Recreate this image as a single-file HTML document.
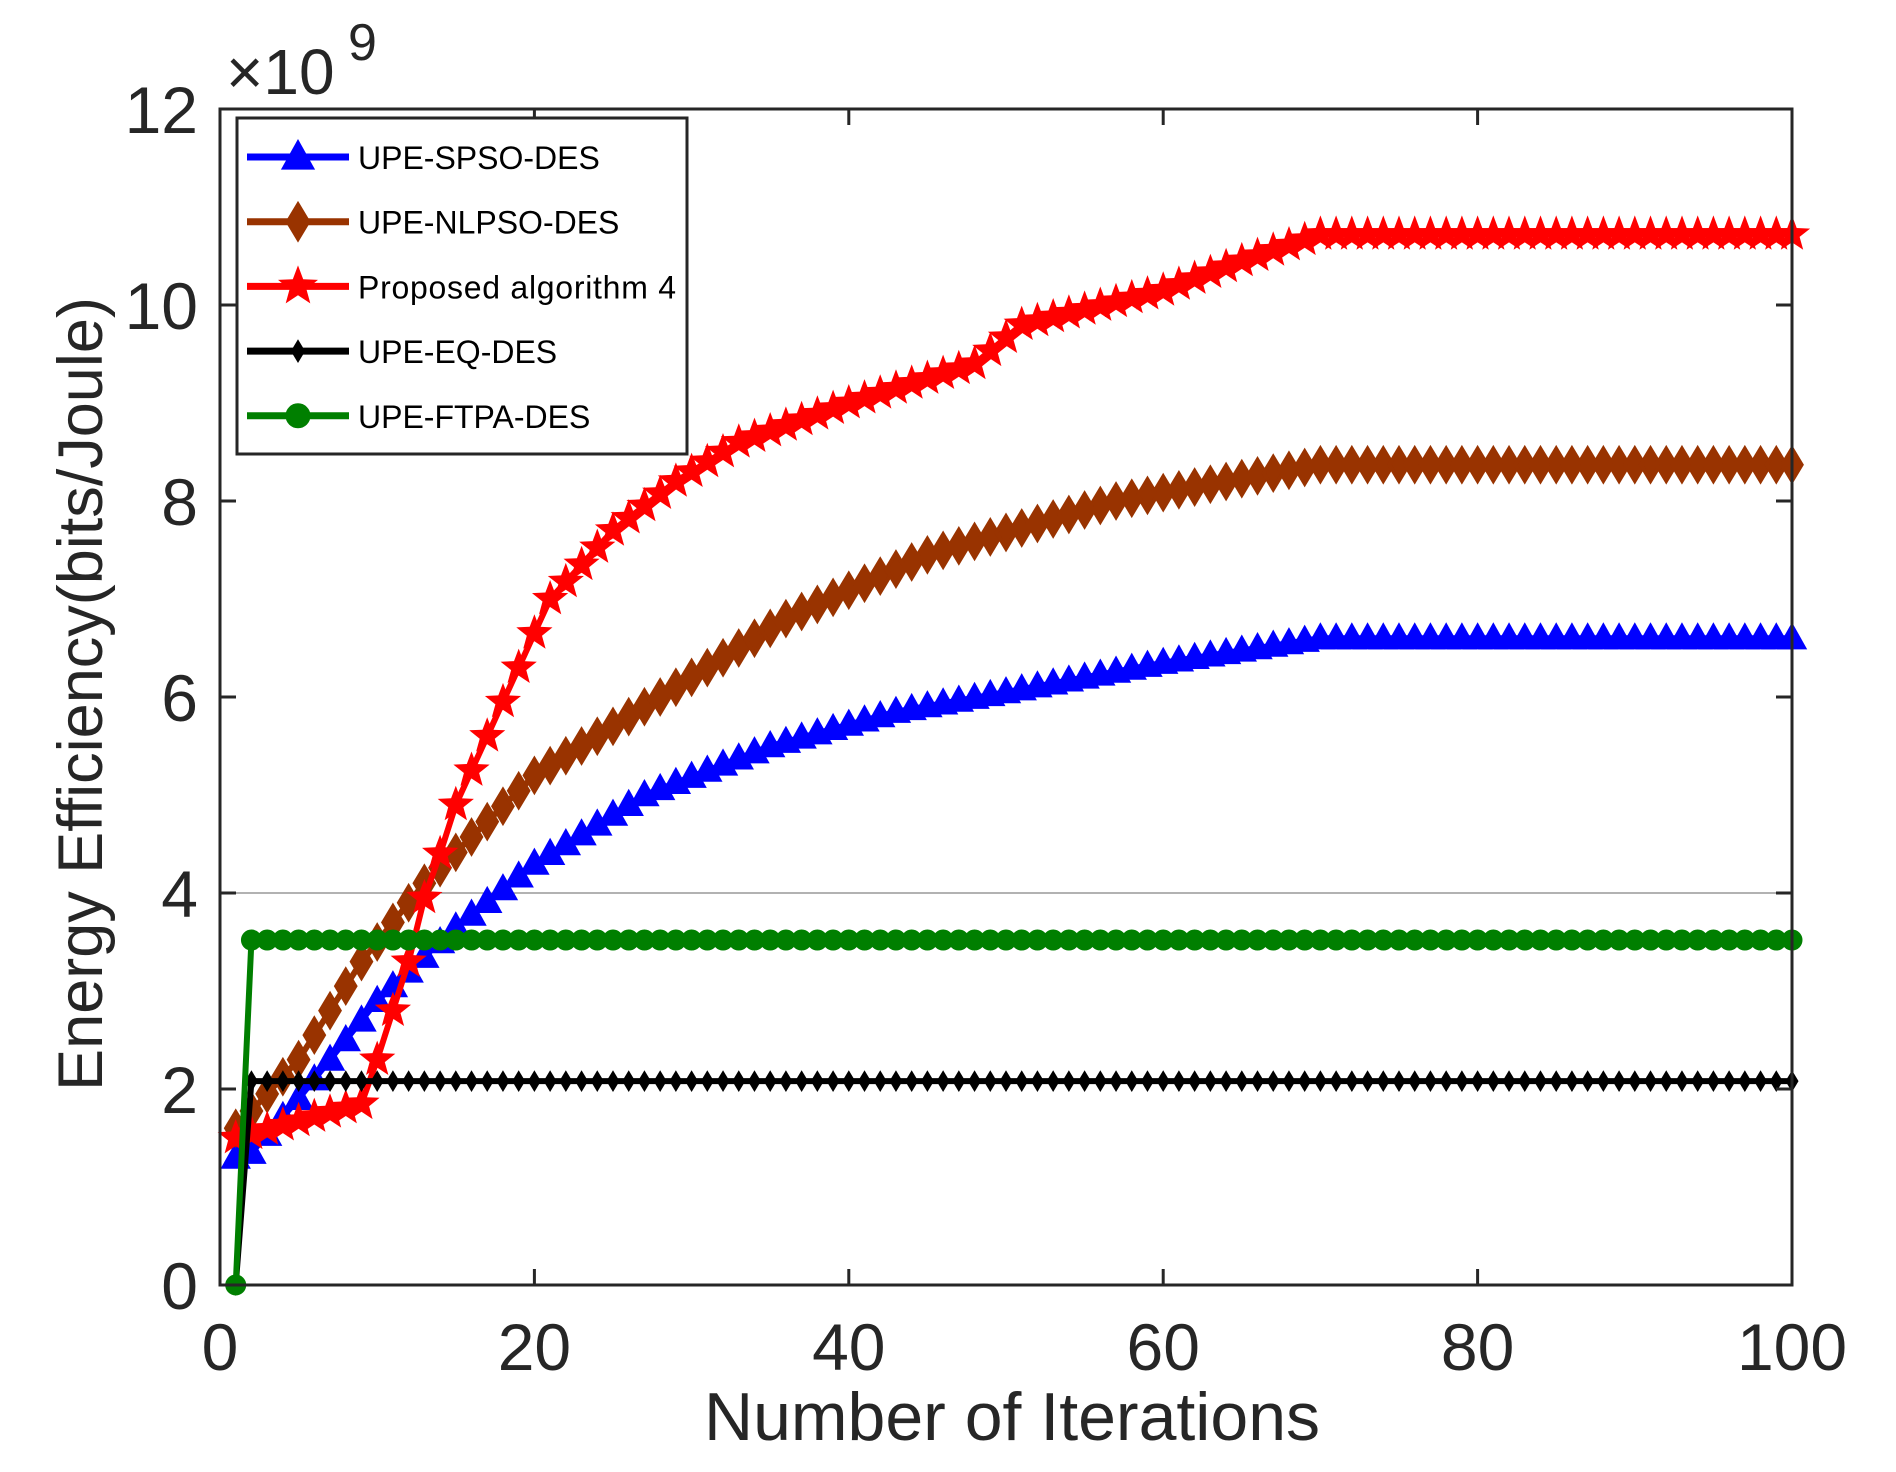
<!DOCTYPE html>
<html><head><meta charset="utf-8"><style>
html,body{margin:0;padding:0;background:#fff;}
svg{display:block;font-family:"Liberation Sans",Arial,sans-serif;}
</style></head><body>
<svg id="s" width="1896" height="1472" viewBox="0 0 1896 1472" xmlns="http://www.w3.org/2000/svg">
<rect width="1896" height="1472" fill="#fff"/>
<line x1="220" y1="893" x2="1792" y2="893" stroke="#666" stroke-width="1"/>
<g id="series"></g>
<rect x="220" y="109" width="1572" height="1176" fill="none" stroke="#262626" stroke-width="3"/>
<g stroke="#262626" stroke-width="3" id="ticks"></g>
<g fill="#262626" font-size="66" id="labels"></g>
<text x="226" y="94" font-size="64" fill="#262626">×10</text>
<text x="348" y="60" font-size="52" fill="#262626">9</text>
<text x="1012" y="1440" font-size="68" fill="#262626" text-anchor="middle">Number of Iterations</text>
<text transform="translate(102,694) rotate(-90)" font-size="63" fill="#262626" text-anchor="middle">Energy Efficiency(bits/Joule)</text>
<g id="legend">
<rect x="237" y="118" width="450" height="336" fill="#fff" stroke="#262626" stroke-width="3"/>
</g>
</svg>
<script>
const NS="http://www.w3.org/2000/svg";
const X=x=>220+x*15.72, Y=v=>1285-v*98;
function el(p,t,a){const e=document.createElementNS(NS,t);for(const k in a)e.setAttribute(k,a[k]);p.appendChild(e);return e;}
function interp(kp){const out=[];for(let x=1;x<=100;x++){let v=kp[kp.length-1][1];for(let i=0;i<kp.length-1;i++){if(x>=kp[i][0]&&x<=kp[i+1][0]){const t=(x-kp[i][0])/(kp[i+1][0]-kp[i][0]);v=kp[i][1]+t*(kp[i+1][1]-kp[i][1]);break;}}out.push([x,v]);}return out;}
const blue=interp([[1,1.3],[2,1.35],[5,1.9],[10,2.9],[15,3.65],[20,4.3],[27,5.0],[35,5.5],[43,5.85],[50,6.05],[60,6.35],[70,6.6],[100,6.6]]);
const brown=interp([[1,1.6],[5,2.3],[9,3.3],[13,4.1],[20,5.2],[28,6.0],[36,6.8],[45,7.45],[57,8.0],[70,8.37],[100,8.37]]);
const red=interp([[1,1.5],[9,1.85],[10,2.3],[11,2.8],[12,3.3],[13,3.95],[14,4.4],[15,4.9],[17,5.6],[19,6.3],[21,7.0],[25,7.7],[29,8.2],[33,8.6],[40,9.0],[48,9.4],[51,9.8],[60,10.15],[65,10.45],[70,10.72],[100,10.72]]);
const black=interp([[1,0],[2,2.08],[100,2.08]]);
const green=interp([[1,0],[2,3.52],[100,3.52]]);
function tri(p,cx,cy,s,c){el(p,'polygon',{points:`${cx},${cy-s} ${cx-s*0.95},${cy+s*0.7} ${cx+s*0.95},${cy+s*0.7}`,fill:c});}
function dia(p,cx,cy,s,c,f){el(p,'polygon',{points:`${cx},${cy-s} ${cx+s*0.6},${cy} ${cx},${cy+s} ${cx-s*0.6},${cy}`,fill:f,stroke:c,'stroke-width':4});}
function star(p,cx,cy,s,c){let pts=[];for(let i=0;i<10;i++){const r=i%2?s*0.42:s;const a=-Math.PI/2+i*Math.PI/5;pts.push((cx+r*Math.cos(a)).toFixed(1)+','+(cy+r*Math.sin(a)).toFixed(1));}el(p,'polygon',{points:pts.join(' '),fill:c});}
function circ(p,cx,cy,s,c){el(p,'circle',{cx,cy,r:s,fill:c,stroke:c,'stroke-width':5});}
const g=document.getElementById('series');
function draw(data,col,mk){el(g,'polyline',{points:data.map(d=>X(d[0])+','+Y(d[1])).join(' '),fill:'none',stroke:col,'stroke-width':6,'stroke-linejoin':'round'});data.forEach(d=>mk(g,X(d[0]),Y(d[1])));}
draw(blue,'#0000ff',(p,x,y)=>tri(p,x,y,16,'#0000ff'));
draw(brown,'#993300',(p,x,y)=>dia(p,x,y,16,'#993300','#993300'));
draw(red,'#ff0000',(p,x,y)=>star(p,x,y,19,'#ff0000'));
draw(black,'#000',(p,x,y)=>dia(p,x,y,7,'#000','#000'));
draw(green,'#007f00',(p,x,y)=>circ(p,x,y,8,'#007f00'));
const t=document.getElementById('ticks'),L=document.getElementById('labels');
for(let i=0;i<=5;i++){const x=220+i*314.4;el(t,'line',{x1:x,y1:1285,x2:x,y2:1269});el(t,'line',{x1:x,y1:109,x2:x,y2:125});const tx=el(L,'text',{x:x,y:1370,'text-anchor':'middle'});tx.textContent=i*20;}
for(let i=0;i<=6;i++){const y=1285-i*196;el(t,'line',{x1:220,y1:y,x2:236,y2:y});el(t,'line',{x1:1792,y1:y,x2:1776,y2:y});const tx=el(L,'text',{x:198,y:y+24,'text-anchor':'end'});tx.textContent=i*2;}
const lg=document.getElementById('legend');
const items=[['UPE-SPSO-DES','#0000ff',(p,x,y)=>tri(p,x,y,18,'#0000ff')],['UPE-NLPSO-DES','#993300',(p,x,y)=>dia(p,x,y,17,'#993300','#993300')],['Proposed algorithm 4','#ff0000',(p,x,y)=>star(p,x,y,21,'#ff0000')],['UPE-EQ-DES','#000',(p,x,y)=>dia(p,x,y,8,'#000','#000')],['UPE-FTPA-DES','#007f00',(p,x,y)=>circ(p,x,y,10,'#007f00')]];
items.forEach((it,i)=>{const y=157+i*64.7;el(lg,'line',{x1:247,y1:y,x2:349,y2:y,stroke:it[1],'stroke-width':7});it[2](lg,298,y);const tx=el(lg,'text',{x:358,y:y+12,'font-size':32,fill:'#000',textLength:it[0]==='Proposed algorithm 4'?318:null});if(it[0]==='Proposed algorithm 4')tx.setAttribute('textLength',318);else tx.removeAttribute('textLength');tx.textContent=it[0];});
</script>
</body></html>
